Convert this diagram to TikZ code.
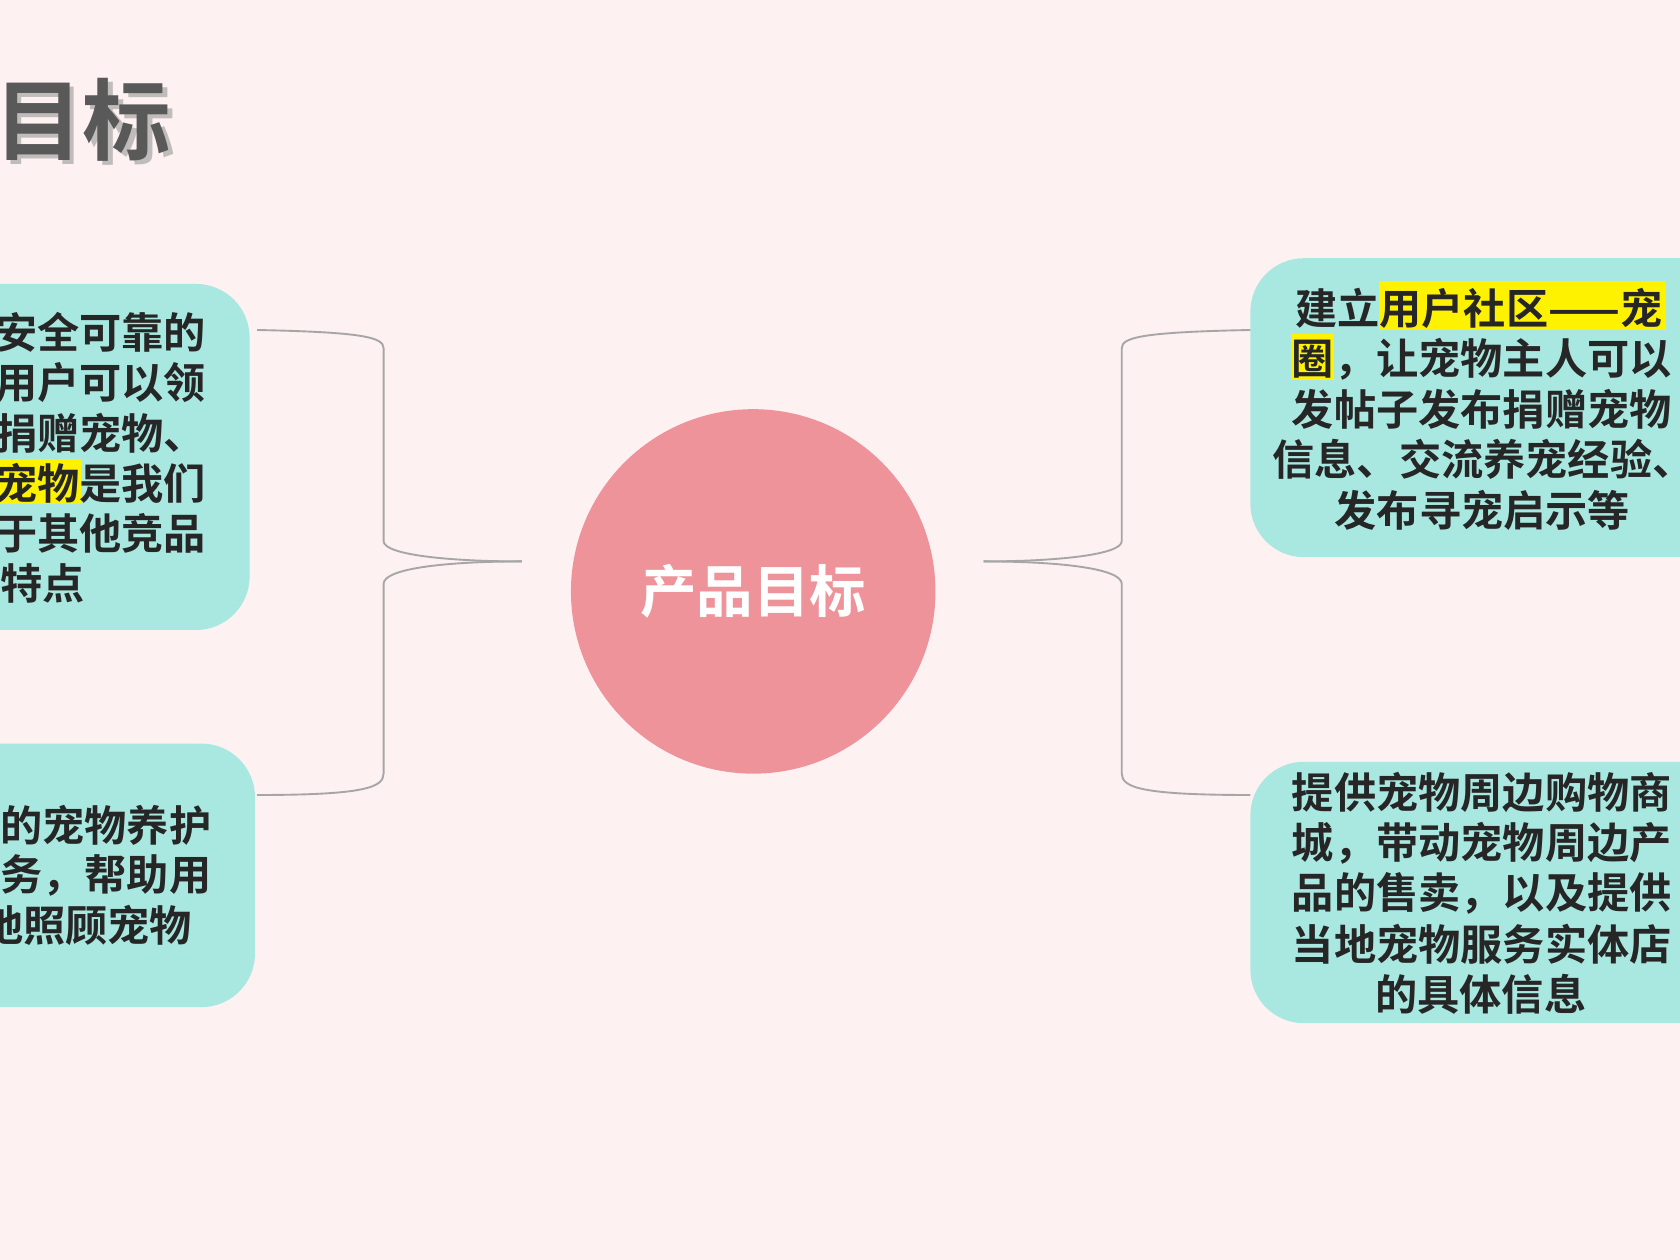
\documentclass[tikz,border=0pt]{standalone}
\usepackage{fontspec}
\newfontfamily\cjk{Noto Sans CJK SC Bold}
\definecolor{bg}{HTML}{FDF1F2}
\definecolor{box}{HTML}{A8E8E0}
\definecolor{circ}{HTML}{EF939B}
\definecolor{txt}{HTML}{262626}
\definecolor{brace}{HTML}{A6A6A6}
\begin{document}
\begin{tikzpicture}[x=0.01cm,y=-0.01cm,
  tbox/.style={draw=none,fill=box,rounded corners=0.5cm},
  ln/.style={inner sep=0pt,font=\cjk\fontsize{11.2}{13.4}\selectfont,text=txt},
  hl/.style={fill=yellow,draw=none},
  br/.style={draw=brace,line width=0.5pt}]
\fill[bg] (0,0) rectangle (1568,1176);
\useasboundingbox (0,0) rectangle (1568,1176);
\clip (0,0) rectangle (1568,1176);
% title
\node[anchor=west,inner sep=0pt,font=\cjk\fontsize{23.5}{26}\selectfont,text=black!40,opacity=0.6] (tsh) at (-2,116) {目标};
\node[anchor=west,inner sep=0pt,font=\cjk\fontsize{23.5}{26}\selectfont,text=black!65] (title) at (-6,112) {目标};
% boxes
\path[tbox] (-60,265) rectangle (233,588);
\node (lt) at (90,426) {};
\path[tbox] (-60,694) rectangle (238,940);
\node (lb) at (90,817) {};
\path[tbox] (1167,241) rectangle (1640,520);
\node (rt) at (1380,380) {};
\path[tbox] (1167,711) rectangle (1640,955);
\node (rb) at (1380,833) {};
% highlights
\fill[hl] (0,428) rectangle (76,470);
\fill[hl] (1287,262) rectangle (1555,308);
\fill[hl] (1205,312) rectangle (1245,355);
% left top text
\node[ln,anchor=east] at (193,310) {安全可靠的};
\node[ln,anchor=east] at (193,357) {用户可以领};
\node[ln,anchor=east] at (193,404) {捐赠宠物、};
\node[ln,anchor=east] at (193,451) {宠物是我们};
\node[ln,anchor=east] at (193,498) {于其他竞品};
\node[ln,anchor=west] at (0,545) {特点};
% left bottom text
\node[ln,anchor=east] at (198,770) {的宠物养护};
\node[ln,anchor=east] at (198,817) {务，帮助用};
\node[ln,anchor=east] at (180,864) {地照顾宠物};
% right top text
\node[ln,anchor=west] at (1208,288) {建立用户社区——宠};
\node[ln,anchor=west] at (1205,335) {圈，让宠物主人可以};
\node[ln,anchor=west] at (1205,382) {发帖子发布捐赠宠物};
\node[ln,anchor=west] at (1187,429) {信息、交流养宠经验、};
\node[ln,anchor=west] at (1245,476) {发布寻宠启示等};
% right bottom text
\node[ln,anchor=west] at (1205,740) {提供宠物周边购物商};
\node[ln,anchor=west] at (1205,787) {城，带动宠物周边产};
\node[ln,anchor=west] at (1205,834) {品的售卖，以及提供};
\node[ln,anchor=west] at (1205,881) {当地宠物服务实体店};
\node[ln] at (1382,928) {的具体信息};
% centre
\node[circle,fill=circ,minimum size=3.4cm,inner sep=0pt,text=white,font=\cjk\fontsize{15}{18}\selectfont] (c) at (703,552) {产品目标};
% braces
\coordinate (lt1) at (240,308); \coordinate (lb1) at (240,742);
\coordinate (rt1) at (1167,308); \coordinate (rb1) at (1167,742);
\coordinate (ltip) at (487,524); \coordinate (rtip) at (918,524);
\draw[br] (lt1) .. controls (340,310) and (358,315) .. (358,325) -- (358,505)
  .. controls (358,518) and (420,524) .. (ltip);
\draw[br] (ltip) .. controls (420,524) and (358,530) .. (358,545) -- (358,722)
  .. controls (358,735) and (340,742) .. (lb1);
\draw[br] (rt1) .. controls (1065,310) and (1047,315) .. (1047,325) -- (1047,505)
  .. controls (1047,518) and (985,524) .. (rtip);
\draw[br] (rtip) .. controls (985,524) and (1047,530) .. (1047,545) -- (1047,722)
  .. controls (1047,735) and (1065,742) .. (rb1);
\end{tikzpicture}
\end{document}
